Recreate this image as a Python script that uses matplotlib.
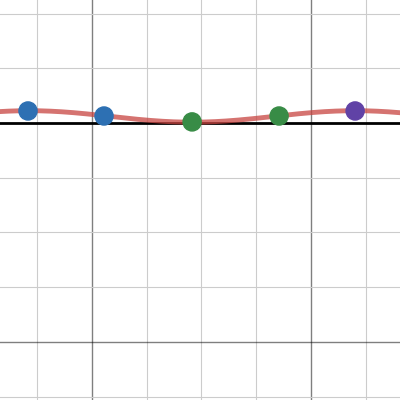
import numpy as np
import matplotlib.pyplot as plt

# points (grid units)
px = [-1.17, 0.22, 1.83, 3.42, 4.81]
py = [0.22, 0.128, 0.02, 0.128, 0.22]
pcol = ['#2d70b3', '#2d70b3', '#388c46', '#388c46', '#6042a6']

# curve parameters
amp = 0.105
x_min = 1.83
period = 5.96

fig = plt.figure(figsize=(4, 4), dpi=100)
ax = fig.add_axes([0, 0, 1, 1])
ax.set_xlim(-92 / 54.7, 308 / 54.7)
ax.set_ylim(-277 / 54.7, 123 / 54.7)

for gx in range(-1, 6):
    ax.axvline(gx, color='#000000' if gx % 4 == 0 else '#cccccc',
               lw=1.0 if gx % 4 == 0 else 0.8, alpha=0.5 if gx % 4 == 0 else 1, zorder=0)
for gy in range(-5, 3):
    if gy == 0:
        continue
    ax.axhline(gy, color='#000000' if gy % 4 == 0 else '#cccccc',
               lw=1.0 if gy % 4 == 0 else 0.8, alpha=0.5 if gy % 4 == 0 else 1, zorder=0)
ax.axhline(0, color='black', lw=2, zorder=1)

xs = np.linspace(-2, 6, 400)
ys = amp * (1 - np.cos(2 * np.pi * (xs - x_min) / period)) + 0.015
ax.plot(xs, ys, color='#c74440', lw=3.5, alpha=0.75, zorder=2)
ax.scatter(px, py, s=170, c=pcol, zorder=3)

ax.axis('off')
fig.savefig('out.png')
